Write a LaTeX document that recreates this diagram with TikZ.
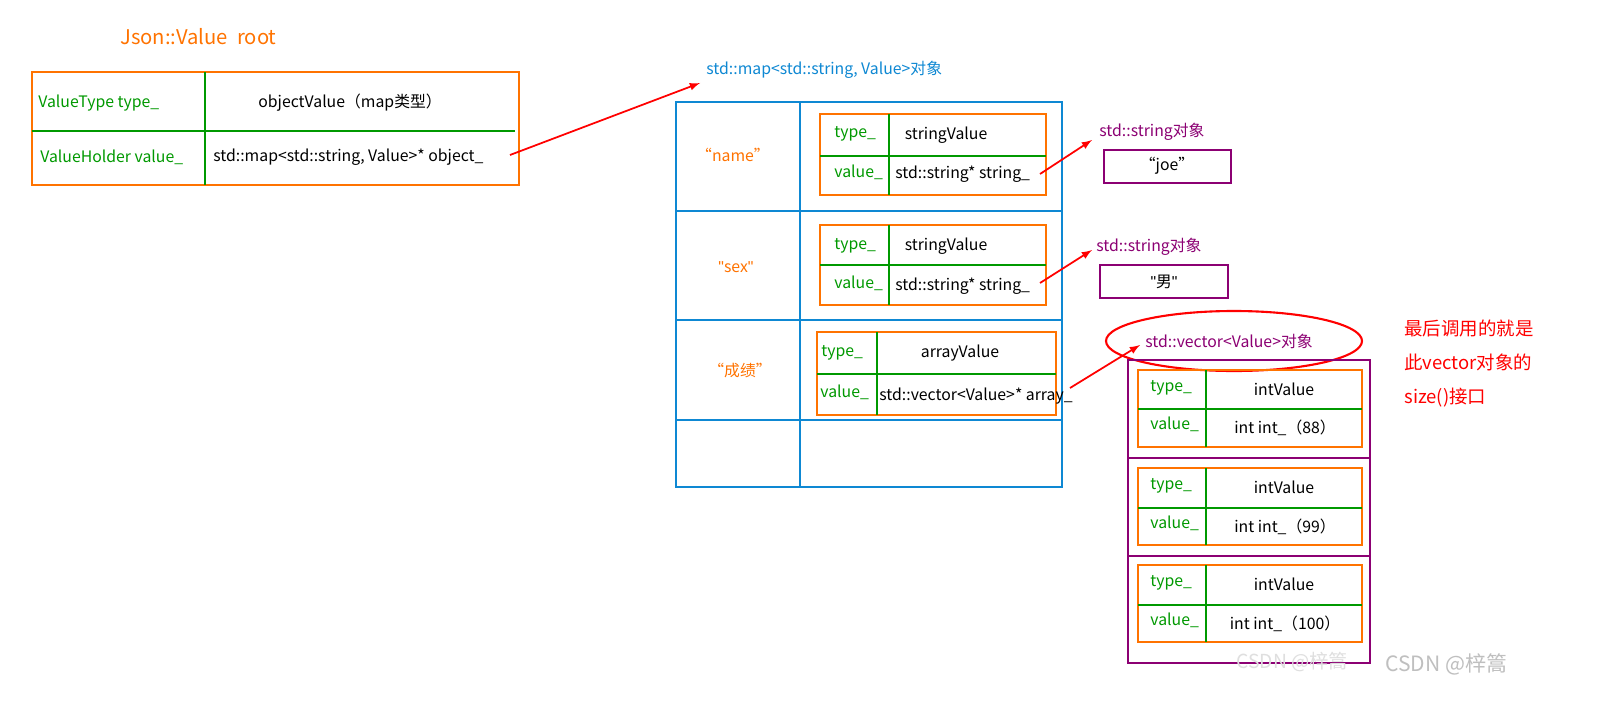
\documentclass[tikz,border=0pt]{standalone}
\usepackage{fontspec}
\setmainfont{Noto Sans CJK SC}[Ligatures=ResetAll]
\newfontfamily\latq{Liberation Sans}[Ligatures=ResetAll]
\newcommand{\sq}{{\latq\char34}}
\begin{document}
\begin{tikzpicture}[x=0.02cm,y=-0.02cm,
  every node/.style={font=\fontsize{9}{11}\selectfont, inner sep=0pt},
  ob/.style={draw=orange!90!red, line width=1.2pt},
  gl/.style={draw=green!60!black, line width=1.2pt},
  bl/.style={draw=cyan!70!blue, line width=1.2pt},
  pb/.style={draw=violet!80!purple, line width=1.2pt},
  ra/.style={draw=red, line width=1pt, -latex},
  gt/.style={text=green!60!black, anchor=west},
  ot/.style={text=orange!90!red},
  pt/.style={text=violet!80!purple, anchor=west},
  rt/.style={text=red, anchor=west, font=\fontsize{10.5}{12}\selectfont}]
\useasboundingbox (0,0) rectangle (1604,713);
\fill[white] (0,0) rectangle (1604,713);
% root
\node[ot, anchor=west, font=\fontsize{11.5}{13}\selectfont] (title) at (120,37) {Json::Value\ \ root};
\draw[ob] (32,72) rectangle (519,185);
\draw[gl] (205,72) -- (205,185);
\draw[gl] (32,131) -- (515,131);
\node[gt] (rt1) at (38,103) {ValueType type\_};
\node (rv1) at (350,103) {objectValue（map类型）};
\node[gt] (rt2) at (40,157) {ValueHolder value\_};
\node[anchor=west] (rv2) at (213,157) {std::map<std::string, Value>* object\_};
\coordinate (a1s) at (510,155);
% map
\node[anchor=west, text=cyan!70!blue] (maplab) at (706,70) {std::map<std::string, Value>对象};
\coordinate (a1e) at (700,83);
\draw[ra] (a1s) -- (a1e);
\draw[bl] (676,102) rectangle (1062,487);
\draw[bl] (800,102) -- (800,487);
\foreach \y in {211,320,420} \draw[bl] (676,\y) -- (1062,\y);
\node[ot] (k1) at (733,155) {“name”};
\node[ot] (k2) at (736,267) {\sq sex\sq};
\node[ot] (k3) at (740,370) {“成绩”};
% name
\draw[ob] (820,114) rectangle (1046,195);
\draw[gl] (889,114) -- (889,195);
\draw[gl] (820,156) -- (1046,156);
\node[gt] (n1) at (834,134) {type\_};
\node (n2) at (946,135) {stringValue};
\node[gt] (n3) at (834,172) {value\_};
\node[anchor=west] (n4) at (895,174) {std::string* string\_};
% sex
\draw[ob] (820,225) rectangle (1046,305);
\draw[gl] (889,225) -- (889,305);
\draw[gl] (820,265) -- (1046,265);
\node[gt] (s1) at (834,246) {type\_};
\node (s2) at (946,246) {stringValue};
\node[gt] (s3) at (834,283) {value\_};
\node[anchor=west] (s4) at (895,286) {std::string* string\_};
% score
\draw[ob] (817,332) rectangle (1056,415);
\draw[gl] (877,332) -- (877,415);
\draw[gl] (817,374) -- (1056,374);
\node[gt] (c1) at (821,353) {type\_};
\node (c2) at (960,353) {arrayValue};
\node[gt] (c3) at (820,392) {value\_};
\node[anchor=west] (c4) at (879,396) {std::vector<Value>* array\_};
% strings
\node[pt] (sl1) at (1099,132) {std::string对象};
\draw[pb] (1104,150) rectangle (1231,183);
\node (joe) at (1167,166) {“joe”};
\node[pt] (sl2) at (1096,247) {std::string对象};
\draw[pb] (1100,265) rectangle (1228,298);
\node (nan) at (1164,282) {\sq 男\sq};
\coordinate (b1s) at (1040,174); \coordinate (b1e) at (1092,140);
\coordinate (b2s) at (1040,283); \coordinate (b2e) at (1092,250);
\coordinate (b3s) at (1070,388); \coordinate (b3e) at (1140,345);
\draw[ra] (b1s) -- (b1e);
\draw[ra] (b2s) -- (b2e);
\draw[ra] (b3s) -- (b3e);
% vector
\draw[red, line width=1.2pt] (1234,341) ellipse [x radius=128, y radius=30];
\node[pt] (vl) at (1145,341) {std::vector<Value>对象};
\node[rt] (r1) at (1404,328) {最后调用的就是};
\node[rt] (r2) at (1404,362) {此vector对象的};
\node[rt] (r3) at (1404,398) {size()接口};
\draw[pb] (1128,360) rectangle (1370,663);
\draw[pb] (1128,458) -- (1370,458);
\draw[pb] (1128,556) -- (1370,556);
\foreach \t/\m/\v in {370/409/88, 468/508/99, 565/605/100} {
  \draw[ob] (1138,\t) rectangle (1362,\t+77);
  \draw[gl] (1206,\t) -- (1206,\t+77);
  \draw[gl] (1138,\m) -- (1362,\m);
  \node[gt] at (1150,\t+18) {type\_};
  \node at (1284,\t+19) {intValue};
  \node[gt] at (1150,\m+15) {value\_};
  \node at (1285,\m+19) {int int\_（\v）};
}
\node[anchor=west, text=gray!25, font=\fontsize{11}{13}\selectfont] (wm1) at (1236,662) {CSDN @梓篙};
\node[anchor=west, text=gray!50, font=\fontsize{12}{13}\selectfont] (wm2) at (1385,664) {CSDN @梓篙};
\end{tikzpicture}
\end{document}
